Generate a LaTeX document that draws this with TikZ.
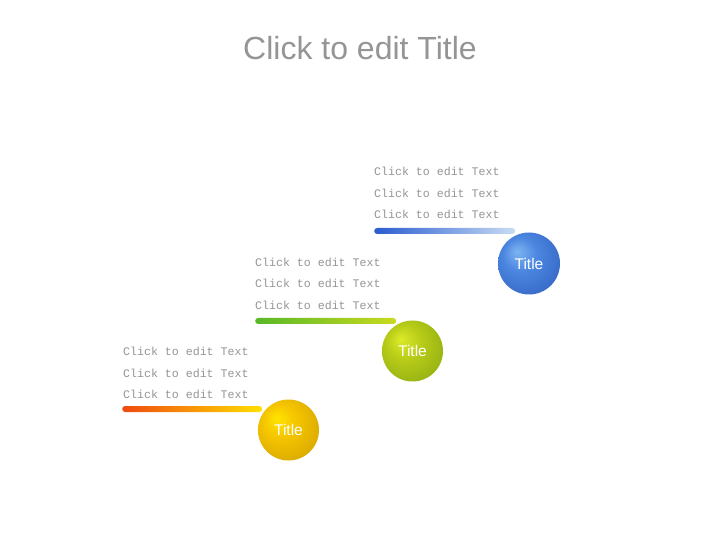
\documentclass[tikz,border=0pt]{standalone}
\usepackage{fontspec}
\setmainfont{Liberation Sans}
\newfontfamily\monofont{Liberation Mono}
\definecolor{txtgray}{HTML}{959595}
\definecolor{blA}{HTML}{7EB4F2}
\definecolor{blB}{HTML}{4A86E0}
\definecolor{blC}{HTML}{16349A}
\definecolor{grA}{HTML}{DCEA28}
\definecolor{grB}{HTML}{B8CC18}
\definecolor{grC}{HTML}{628A0E}
\definecolor{yeA}{HTML}{FFE400}
\definecolor{yeB}{HTML}{F5C400}
\definecolor{yeC}{HTML}{AC8000}
\definecolor{barBL}{HTML}{2A5CD0}
\definecolor{barBR}{HTML}{C8DCF4}
\definecolor{barGL}{HTML}{58B828}
\definecolor{barGR}{HTML}{CADA20}
\definecolor{barOL}{HTML}{F04A10}
\definecolor{barOR}{HTML}{FFE000}
\pgfdeclareradialshading{blueball}{\pgfpoint{-10bp}{10bp}}{color(0bp)=(blA); color(14bp)=(blB); color(32bp)=(blB!65!blC); color(50bp)=(blC)}
\pgfdeclareradialshading{greenball}{\pgfpoint{-10bp}{10bp}}{color(0bp)=(grA); color(14bp)=(grB); color(32bp)=(grB!60!grC); color(50bp)=(grC)}
\pgfdeclareradialshading{yellowball}{\pgfpoint{-10bp}{10bp}}{color(0bp)=(yeA); color(14bp)=(yeB); color(32bp)=(yeB!62!yeC); color(50bp)=(yeC)}
\begin{document}
\begin{tikzpicture}[x=1pt,y=-1pt,
  titletext/.style={text=txtgray,font=\fontsize{32}{36}\selectfont,inner sep=0},
  bodytext/.style={text=txtgray,font=\monofont\fontsize{11.6}{13}\selectfont,anchor=west,inner sep=0},
  barbox/.style={rounded corners=3pt,minimum height=6pt,inner sep=0,anchor=west},
  ball/.style={circle,minimum size=62pt,inner sep=0,text=white,font=\fontsize{15.5}{17}\selectfont}]
\useasboundingbox (0,0) rectangle (721,540);
\fill[white] (0,0) rectangle (721,540);
\node[titletext] (title) at (360,48) {Click to edit Title};
% blue group
\node[bodytext] (b1) at (374,171) {Click to edit Text};
\node[bodytext] (b2) at (374,193) {Click to edit Text};
\node[bodytext] (b3) at (374,214) {Click to edit Text};
\node[barbox,minimum width=141pt,left color=barBL,right color=barBR] (bbar) at (374,231) {};
\node[ball,shading=blueball] (bball) at (529,263.5) {Title};
% green group
\node[bodytext] (g1) at (255,262) {Click to edit Text};
\node[bodytext] (g2) at (255,283) {Click to edit Text};
\node[bodytext] (g3) at (255,305) {Click to edit Text};
\node[barbox,minimum width=141pt,left color=barGL,right color=barGR] (gbar) at (255,321) {};
\node[ball,minimum size=61pt,shading=greenball] (gball) at (412.5,351) {Title};
% orange group
\node[bodytext] (o1) at (123,351) {Click to edit Text};
\node[bodytext] (o2) at (123,373) {Click to edit Text};
\node[bodytext] (o3) at (123,394) {Click to edit Text};
\node[barbox,minimum width=140pt,left color=barOL,right color=barOR] (obar) at (122,409) {};
\node[ball,minimum size=61pt,shading=yellowball] (yball) at (288.5,430) {Title};
\end{tikzpicture}
\end{document}
